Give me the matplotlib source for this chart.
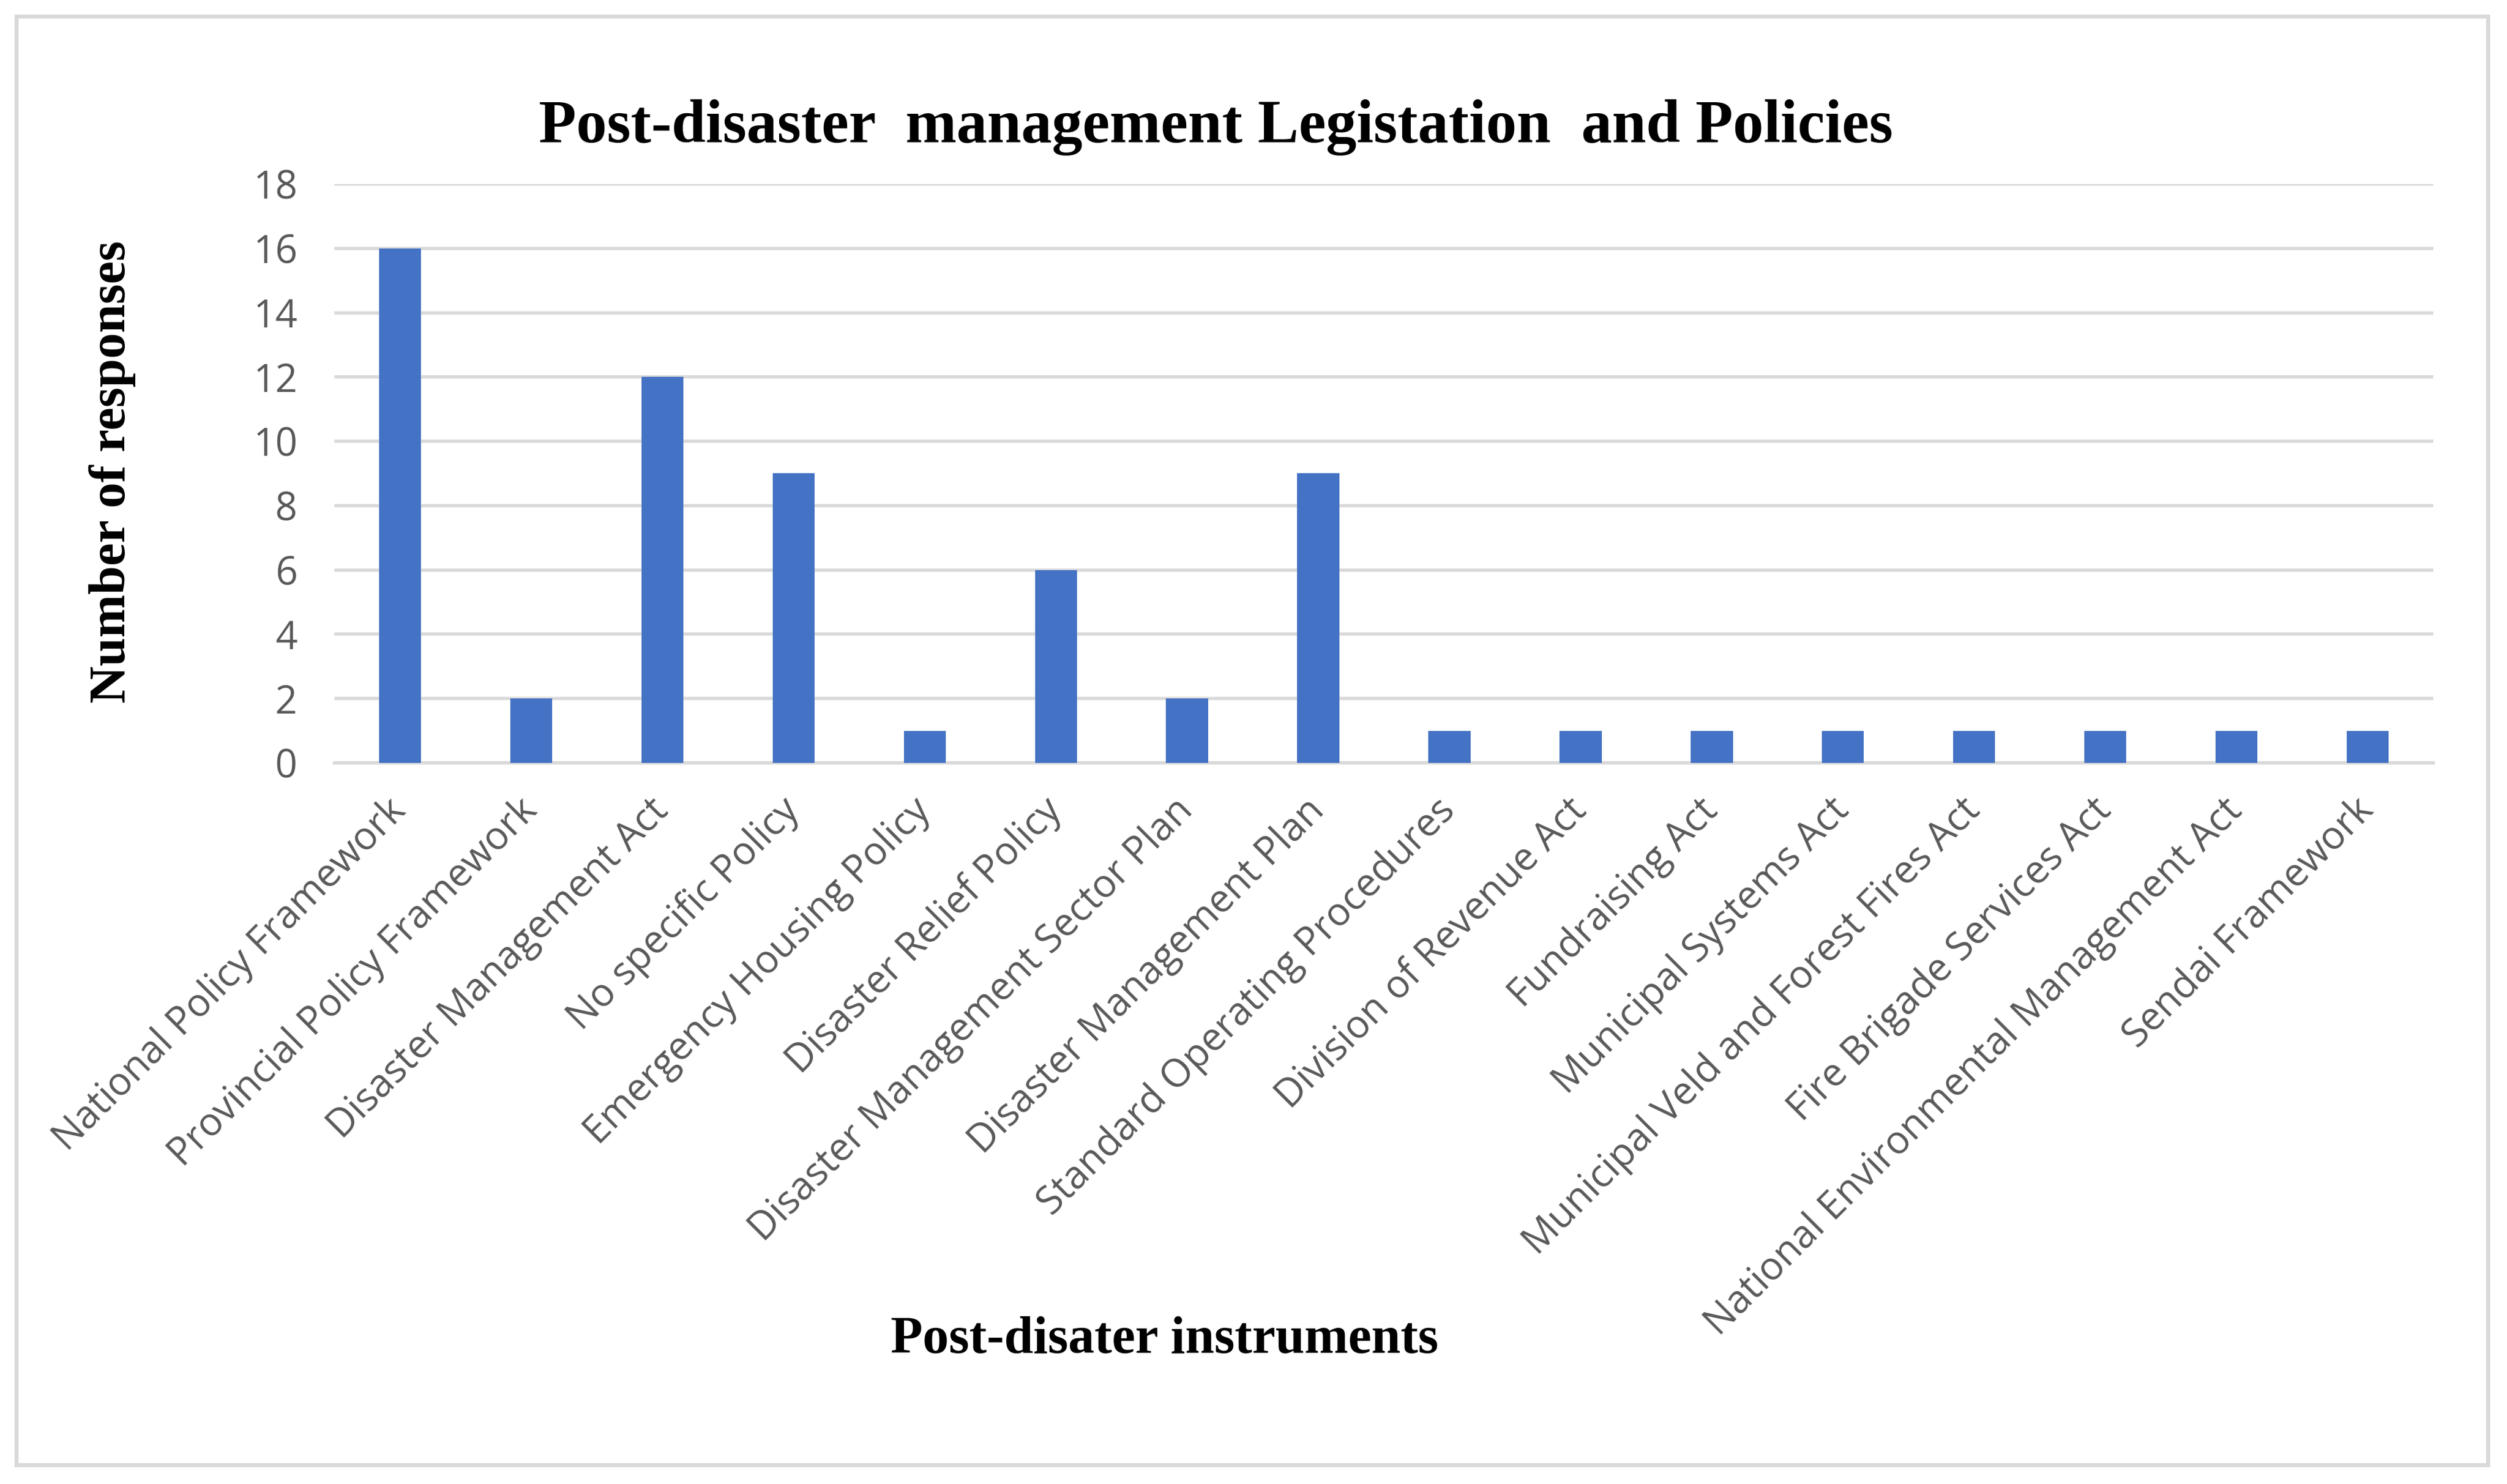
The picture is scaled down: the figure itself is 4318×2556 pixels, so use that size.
import matplotlib
matplotlib.use('Agg')
import matplotlib.pyplot as plt
from matplotlib.patches import Rectangle

categories = [
    'National Policy Framework', 'Provincial Policy Framework', 'Disaster Management Act',
    'No specific Policy', 'Emergency Housing Policy', 'Disaster Relief Policy',
    'Disaster Management Sector Plan', 'Disaster Management Plan', 'Standard Operating Procedures',
    'Division of Revenue Act', 'Fundraising Act', 'Municipal Systems Act',
    'Municipal Veld and Forest Fires Act', 'Fire Brigade Services Act',
    'National Environmental Management Act', 'Sendai Framework',
]
responses = [16, 2, 12, 9, 1, 6, 2, 9, 1, 1, 1, 1, 1, 1, 1, 1]
y_ticks = [0, 2, 4, 6, 8, 10, 12, 14, 16, 18]

bar_color = '#4472C4'
grid_color = '#D9D9D9'
tick_color = '#595959'
serif = ['Liberation Serif', 'DejaVu Serif']

fig = plt.figure(figsize=(43.18, 25.56), dpi=100)
fig.patches.append(Rectangle((28 / 4318, 1 - 2523 / 2556), (4285 - 28) / 4318, (2523 - 28) / 2556,
                             transform=fig.transFigure, fill=False, edgecolor=grid_color, linewidth=5))

ax = fig.add_axes([0.1334, 0.4859, 0.8372, 0.3901])
xs = range(len(categories))
ax.bar(xs, responses, width=0.32, color=bar_color, zorder=3)

ax.set_ylim(0, 18)
ax.set_xlim(-0.5, len(categories) - 0.5)
ax.set_yticks(y_ticks)
ax.set_xticks(list(xs))
ax.set_xticklabels(categories, rotation=45, ha='right', va='center', rotation_mode='anchor')
ax.yaxis.grid(True, color=grid_color, linewidth=4, zorder=0)
for s in ['top', 'right', 'left']:
    ax.spines[s].set_visible(False)
ax.spines['bottom'].set_color(grid_color)
ax.spines['bottom'].set_linewidth(4)
ax.tick_params(axis='both', length=0, labelcolor=tick_color, labelsize=48)
ax.tick_params(axis='y', pad=46)
ax.tick_params(axis='x', pad=52)
for lab in ax.get_xticklabels() + ax.get_yticklabels():
    lab.set_family(['Open Sans', 'DejaVu Sans'])

fig.text(0.485, 0.914, 'Post-disaster  management Legistation  and Policies', ha='center', va='center',
         fontsize=76, fontweight='bold', family=serif)
fig.text(0.0447, 0.682, 'Number of responses', ha='center', va='center', rotation=90,
         fontsize=64, fontweight='bold', family=serif)
fig.text(0.4645, 0.097, 'Post-disater instruments', ha='center', va='center',
         fontsize=65, fontweight='bold', family=serif)

fig.savefig('out.png', dpi=100)
